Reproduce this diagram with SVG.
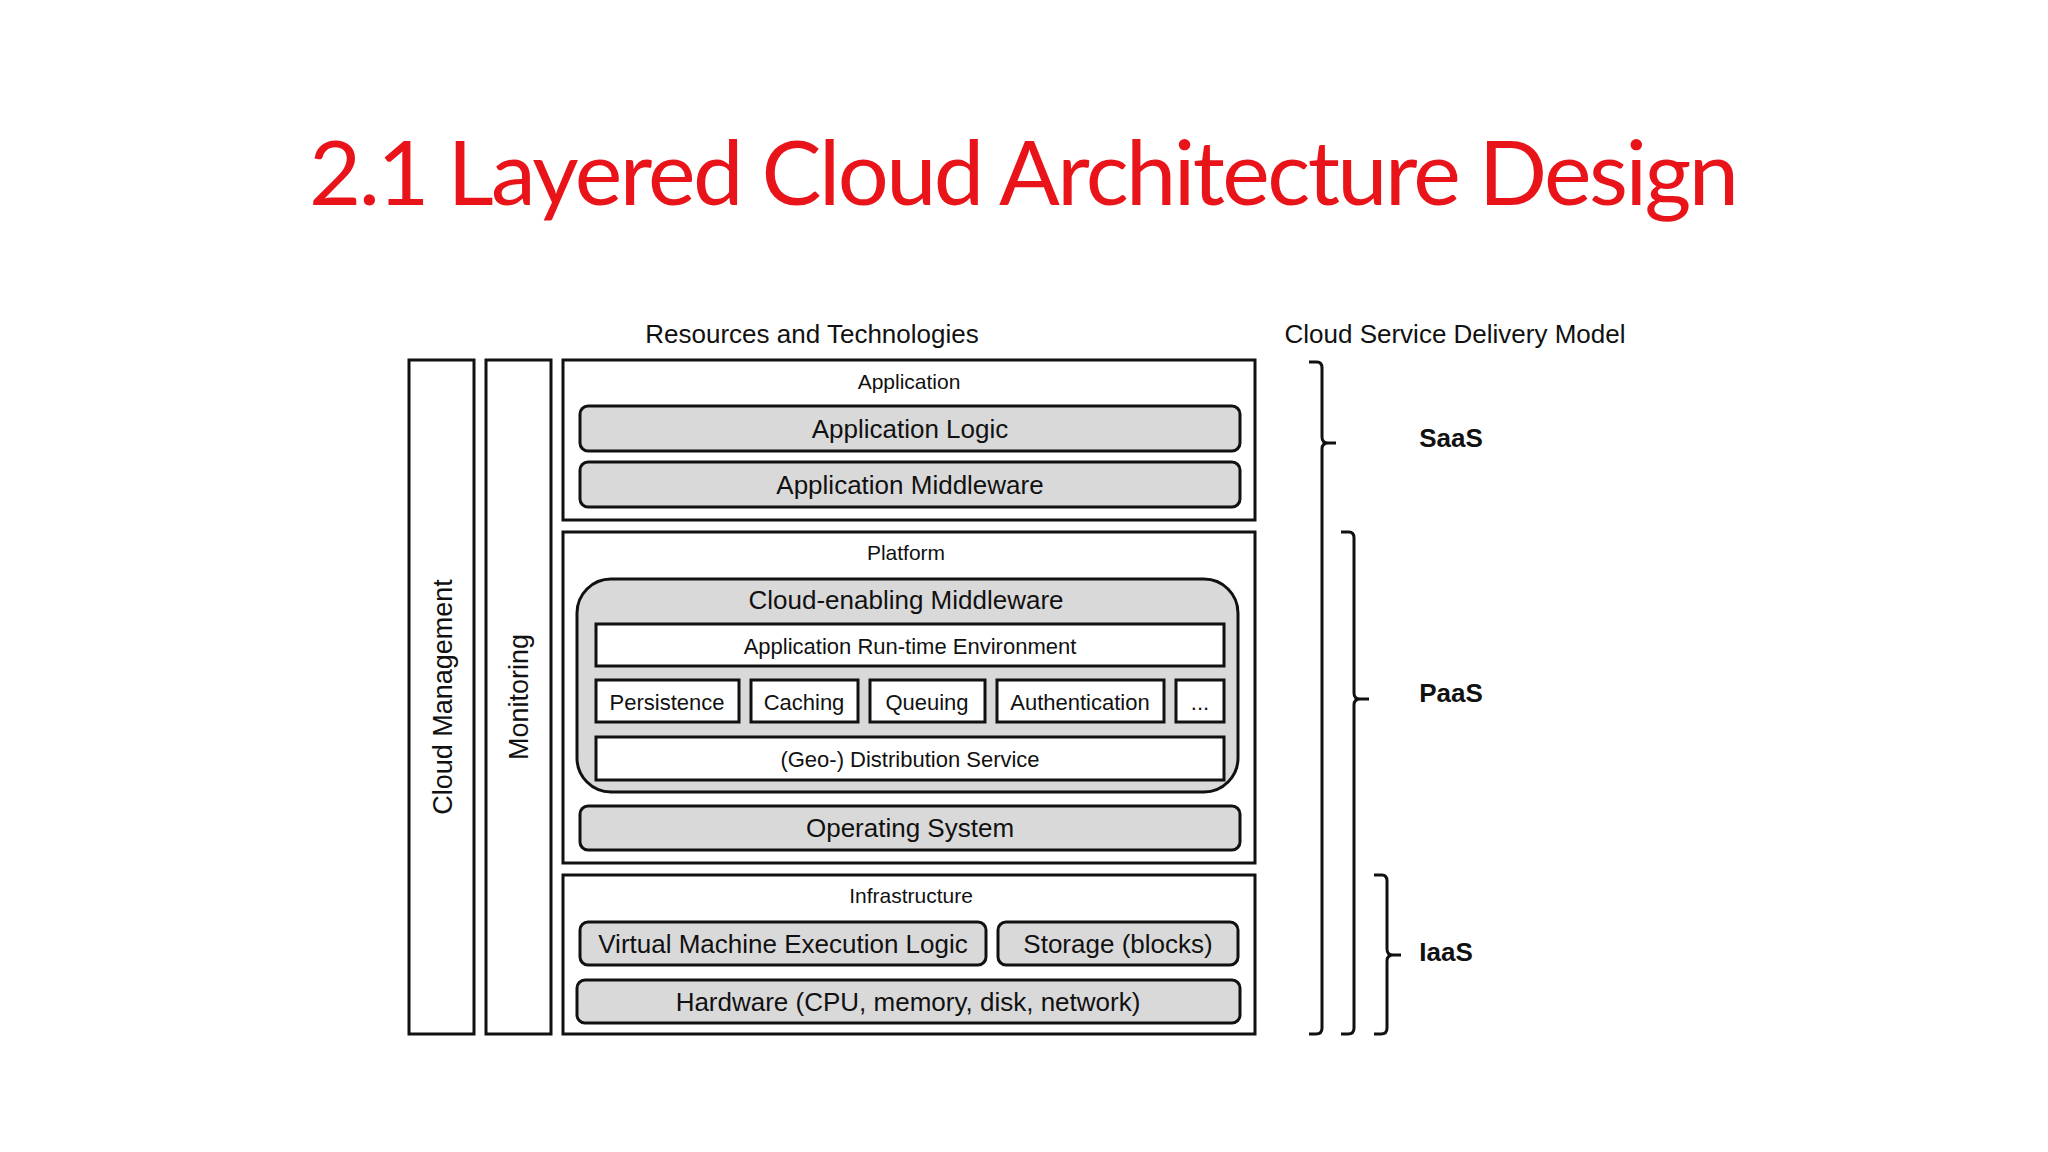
<svg xmlns="http://www.w3.org/2000/svg" width="2048" height="1152" viewBox="0 0 2048 1152">
<style>
text{font-family:"Liberation Sans",Arial,sans-serif;fill:#111;text-anchor:middle;dominant-baseline:central}
.o{fill:#fff;stroke:#111;stroke-width:3}
.g{fill:#d9d9d9;stroke:#111;stroke-width:3}
.w{fill:#fff;stroke:#111;stroke-width:3}
.s{font-size:21px}.m{font-size:26px}.t{font-size:22px}
.b{fill:none;stroke:#111;stroke-width:3}
.l{font-size:26px;font-weight:bold}
</style>
<rect width="2048" height="1152" fill="#fff"/>
<text x="1024" y="170" style="font-family:Lato,'Open Sans','Liberation Sans',sans-serif;font-size:90px;fill:#e8141a" textLength="1430">2.1 Layered Cloud Architecture Design</text>
<text x="812" y="334" class="m">Resources and Technologies</text>
<text x="1455" y="334" class="m">Cloud Service Delivery Model</text>
<g id="cloud-management"><rect x="409" y="360" width="65" height="674" class="o"/><text transform="translate(443,697) rotate(-90)" style="font-size:27px">Cloud Management</text></g>
<g id="monitoring"><rect x="486" y="360" width="65" height="674" class="o"/><text transform="translate(519,697) rotate(-90)" style="font-size:27px">Monitoring</text></g>
<g id="application"><rect x="563" y="360" width="692" height="160" class="o"/><text x="909" y="381" class="s">Application</text></g>
<g id="app-logic"><rect x="580" y="406" width="660" height="45" rx="8" class="g"/><text x="910" y="429" class="m">Application Logic</text></g>
<g id="app-middleware"><rect x="580" y="462" width="660" height="45" rx="8" class="g"/><text x="910" y="485" class="m">Application Middleware</text></g>
<g id="platform"><rect x="563" y="532" width="692" height="331" class="o"/><text x="906" y="552" class="s">Platform</text></g>
<g id="cloud-middleware"><rect x="577" y="579" width="661" height="213" rx="34" class="g"/><text x="906" y="600" class="m">Cloud-enabling Middleware</text></g>
<g id="runtime"><rect x="596" y="624" width="628" height="42" class="w"/><text x="910" y="646" class="t">Application Run-time Environment</text></g>
<g id="persistence"><rect x="596" y="680" width="143" height="42" class="w"/><text x="667" y="702" class="t">Persistence</text></g>
<g id="caching"><rect x="751" y="680" width="107" height="42" class="w"/><text x="804" y="702" class="t">Caching</text></g>
<g id="queuing"><rect x="870" y="680" width="115" height="42" class="w"/><text x="927" y="702" class="t">Queuing</text></g>
<g id="authentication"><rect x="997" y="680" width="167" height="42" class="w"/><text x="1080" y="702" class="t">Authentication</text></g>
<g id="more"><rect x="1176" y="680" width="48" height="42" class="w"/><text x="1200" y="702" class="t">...</text></g>
<g id="geo"><rect x="596" y="737" width="628" height="43" class="w"/><text x="910" y="759" class="t">(Geo-) Distribution Service</text></g>
<g id="os"><rect x="580" y="806" width="660" height="44" rx="8" class="g"/><text x="910" y="828" class="m">Operating System</text></g>
<g id="infrastructure"><rect x="563" y="875" width="692" height="159" class="o"/><text x="911" y="895" class="s">Infrastructure</text></g>
<g id="vm"><rect x="580" y="922" width="406" height="43" rx="8" class="g"/><text x="783" y="944" class="m">Virtual Machine Execution Logic</text></g>
<g id="storage"><rect x="998" y="922" width="240" height="43" rx="8" class="g"/><text x="1118" y="944" class="m">Storage (blocks)</text></g>
<g id="hardware"><rect x="577" y="980" width="663" height="43" rx="8" class="g"/><text x="908" y="1002" class="m">Hardware (CPU, memory, disk, network)</text></g>
<g id="connectors">
<path class="b" d="M1309,362 H1317 Q1322,362 1322,368 V437 Q1322,443 1328,443 H1336 M1328,443 Q1322,443 1322,449 V1028 Q1322,1034 1316,1034 H1309"/>
<path class="b" d="M1341,532 H1349 Q1354,532 1354,538 V693 Q1354,699 1360,699 H1369 M1360,699 Q1354,699 1354,705 V1028 Q1354,1034 1348,1034 H1341"/>
<path class="b" d="M1374,875 H1382 Q1387,875 1387,881 V949 Q1387,955 1393,955 H1401 M1393,955 Q1387,955 1387,961 V1028 Q1387,1034 1381,1034 H1374"/>
</g>
<g id="saas"><text x="1451" y="438" class="l">SaaS</text></g>
<g id="paas"><text x="1451" y="693" class="l">PaaS</text></g>
<g id="iaas"><text x="1446" y="952" class="l">IaaS</text></g>
</svg>
